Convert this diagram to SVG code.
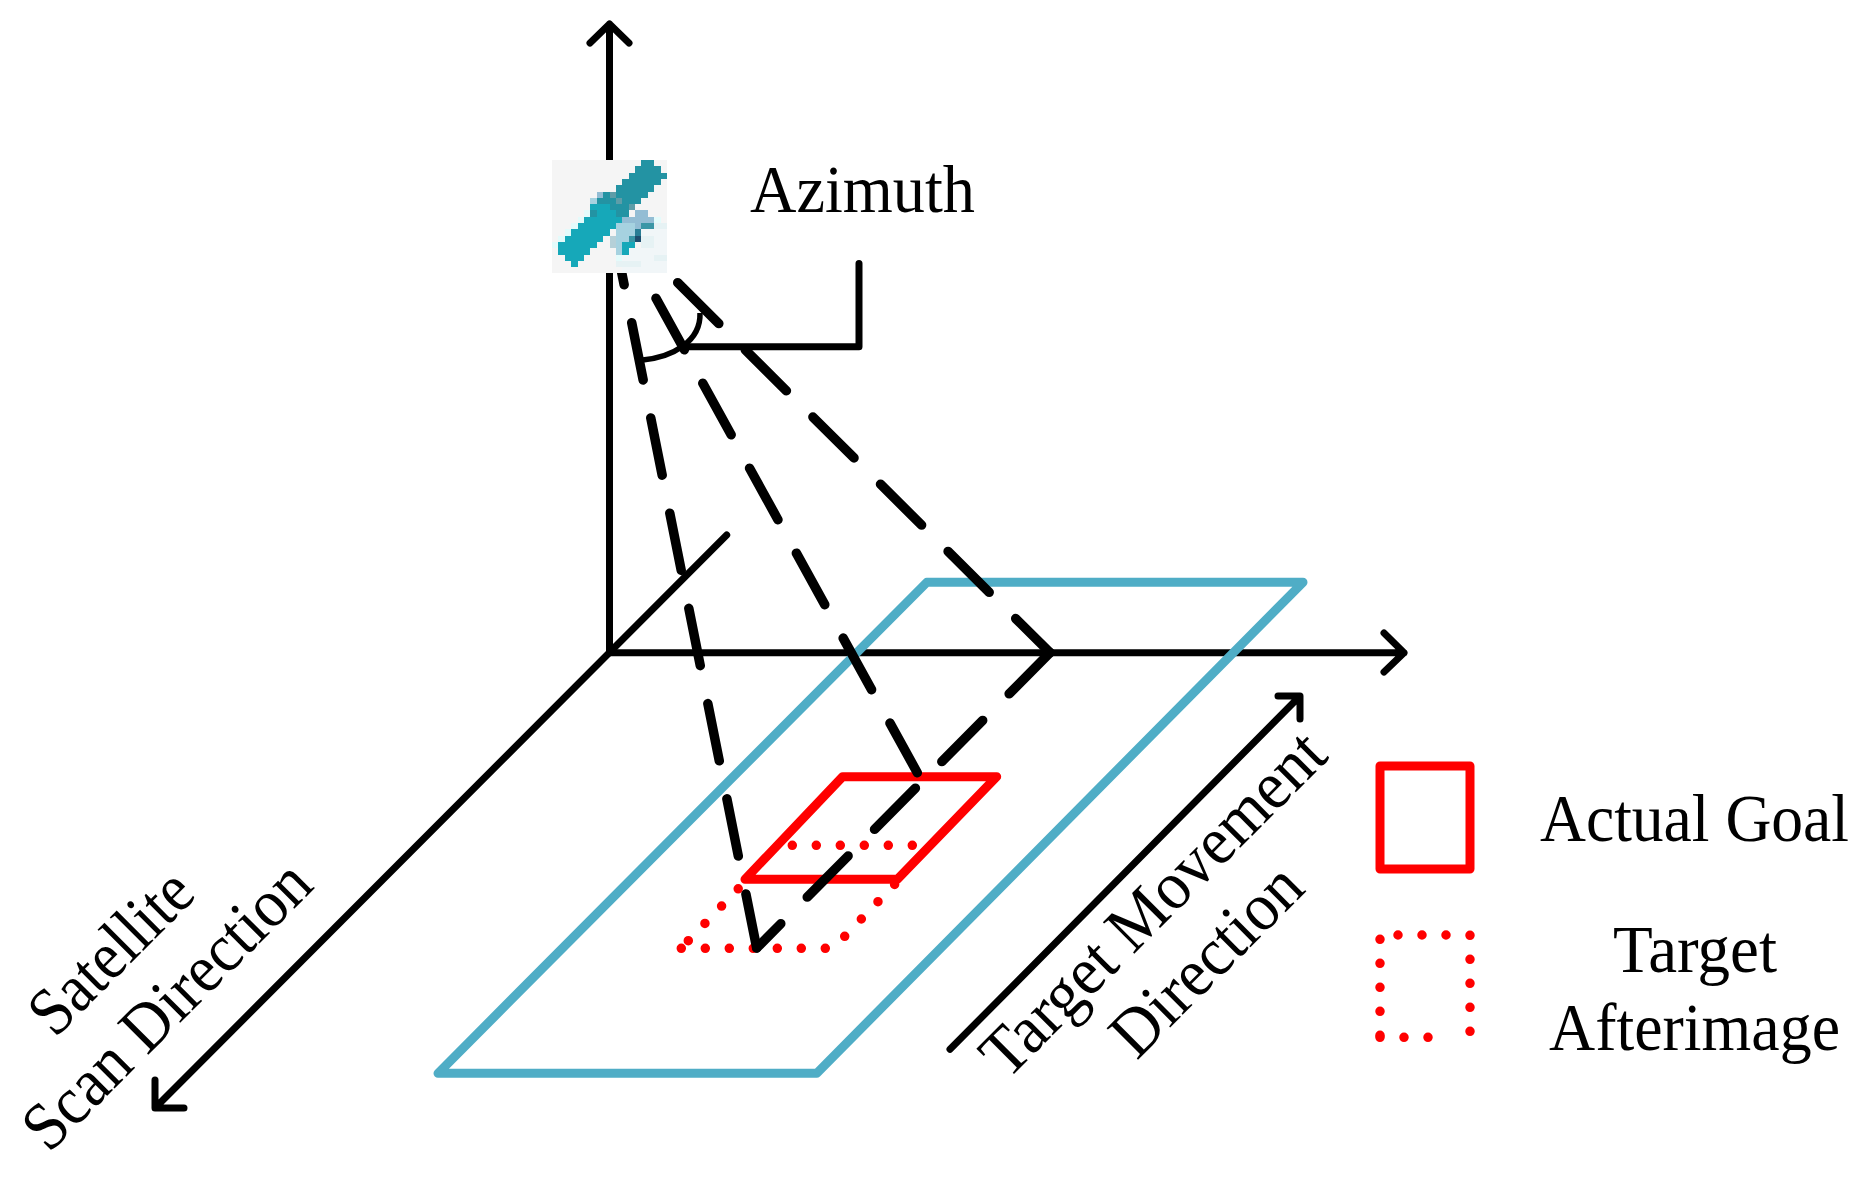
<svg xmlns="http://www.w3.org/2000/svg" width="1868" height="1178" viewBox="0 0 1868 1178">
<style>
text{font-family:"Liberation Serif","Times New Roman",serif;font-size:68px;fill:#000}
.ax{fill:none;stroke:#000;stroke-width:7;stroke-linecap:round;stroke-linejoin:round}
.beam{fill:none;stroke:#000;stroke-width:9.5;stroke-linecap:round}
.blue{fill:none;stroke:#4FADC6;stroke-width:9;stroke-linejoin:round}
.red{fill:none;stroke:#F00;stroke-width:9;stroke-linejoin:round}
.dot{fill:none;stroke:#F00;stroke-width:9.5;stroke-linecap:round;stroke-dasharray:0 24}
.px{shape-rendering:crispEdges}
</style>
<rect width="1868" height="1178" fill="#fff"/>
<g id="connectors-axes">
<path class="ax" d="M609.5 652.7V24M590 43L609.5 24L629 43"/>
<path class="ax" d="M609.5 652.7H1404M1384 633L1404 652.7L1384 672"/>
<path class="ax" d="M726.7 535L158 1105M155 1080V1108H184"/>
<path class="ax" d="M950 1049.3L1298 698M1278 696H1300V719"/>
<path class="ax" d="M859 263.5V346.7H687"/>
</g>
<g id="ground-plane"><path class="blue" d="M926.8 582.3H1303L816.7 1073.3H438Z"/></g>
<g id="target-afterimage">
<path class="dot" d="M792.3 845.3H913"/>
<path class="dot" d="M681.3 948.3H826"/>
<path class="dot" d="M688.3 940.7L739 888"/>
<path class="dot" d="M844.7 936.3L895 884"/>
</g>
<g id="actual-goal"><path class="red" d="M842.7 776.7H996.7L897.3 879.3H745Z"/></g>
<g id="connectors-beams">
<path class="beam" stroke-dasharray="58.4 38.7" d="M612.7 227.5L756.7 948"/>
<path class="beam" stroke-dasharray="58.8 38.2" d="M609.2 213.3L917.3 772.7"/>
<path class="beam" stroke-dasharray="58 37.3" d="M677.7 282.7L1050 652.7"/>
<path class="beam" stroke-dasharray="58 37.5" d="M1050 652.7L756.7 948"/>
<path fill="none" stroke="#000" stroke-width="5.5" d="M642.7 360C672 357 701 342 700 313"/>
</g>
<g id="satellite" transform="translate(552 160) scale(6.39 6.3)">
<rect class="px" width="18" height="18" fill="#F5F5F5"/>
<path class="px" fill="#F1F6F8" d="M11 14h7v4h-7zM14 11h4v3h-4z"/>
<path class="px" fill="#E6F2F4" d="M15 10h3v1h-3zM14 12h2v2h-2zM16 15h2v1h-2zM10 16h4v1h-4z"/>
<path class="px" fill="#E4FBFB" d="M5 8h1v1h-1zM4 9h1v1h-1zM3 10h1v1h-1zM2 11h1v1h-1zM1 12h1v1h-1zM0 13h1v1h-1zM10 15h1v1h-1zM16 9h1v1h-1z"/>
<path class="px" fill="#2393A3" d="M14 0h2v1h-2zM13 1h4v1h-4zM12 2h6v1h-6zM11 3h6v1h-6zM10 4h6v1h-6zM8 5h1v1h-1zM10 5h5v1h-5zM7 6h3v1h-3zM11 6h3v1h-3zM9 7h2v1h-2zM10 8h2v1h-2zM6 8h1v1h-1zM11 7h1v1h-1z"/>
<path class="px" fill="#16A8B9" d="M6 7h3v1h-3zM7 8h3v1h-3zM5 9h6v1h-6zM4 10h6v1h-6zM3 11h6v1h-6zM2 12h6v1h-6zM1 13h6v1h-6zM1 14h5v1h-5zM2 15h3v1h-3zM3 16h1v1h-1zM11 13h2v1h-2zM11 14h1v1h-1z"/>
<path class="px" fill="#5E9DA8" d="M9 5h1v1h-1zM10 6h1v1h-1zM12 7h1v1h-1z"/>
<path class="px" fill="#93BDD4" d="M7 5h1v1h-1zM13 8h2v1h-2zM11 9h5v1h-5zM13 10h1v1h-1z"/>
<path class="px" fill="#A6D2E0" d="M6 6h1v1h-1zM10 10h3v1h-3zM10 11h3v1h-3zM10 12h2v1h-2zM10 13h1v1h-1zM10 14h1v1h-1z"/>
<path class="px" fill="#B5D0D8" d="M9 12h1v2h-1z"/>
<path class="px" fill="#3A96A6" d="M14 10h2v1h-2zM12 12h1v1h-1z"/>
<path class="px" fill="#2A7E95" d="M13 11h1v1h-1z"/>
<path class="px" fill="#1F4E6E" d="M13 12h1v1h-1z"/>
</g>
<g id="label-azimuth"><text x="750" y="212" textLength="225" lengthAdjust="spacingAndGlyphs">Azimuth</text></g>
<g id="label-scan">
<text transform="translate(55 1039) rotate(-45)" textLength="202" lengthAdjust="spacingAndGlyphs">Satellite</text>
<text transform="translate(49 1154) rotate(-45)" textLength="377" lengthAdjust="spacingAndGlyphs">Scan Direction</text>
</g>
<g id="label-movement">
<text transform="translate(1007 1081) rotate(-45)" textLength="457" lengthAdjust="spacingAndGlyphs">Target Movement</text>
<text transform="translate(1136.7 1061) rotate(-45)" textLength="241" lengthAdjust="spacingAndGlyphs">Direction</text>
</g>
<g id="legend-actual">
<rect class="red" x="1380" y="766" width="90" height="103"/>
<text x="1540" y="841" textLength="309" lengthAdjust="spacingAndGlyphs">Actual Goal</text>
</g>
<g id="legend-afterimage">
<path class="dot" d="M1398 935H1470"/>
<path class="dot" d="M1470 935.3V1033"/>
<path class="dot" d="M1380 1037.3H1451"/>
<path class="dot" d="M1380 939.3V1037"/>
<text x="1613" y="972.3" textLength="164" lengthAdjust="spacingAndGlyphs">Target</text>
<text x="1549" y="1050" textLength="291" lengthAdjust="spacingAndGlyphs">Afterimage</text>
</g>
</svg>
